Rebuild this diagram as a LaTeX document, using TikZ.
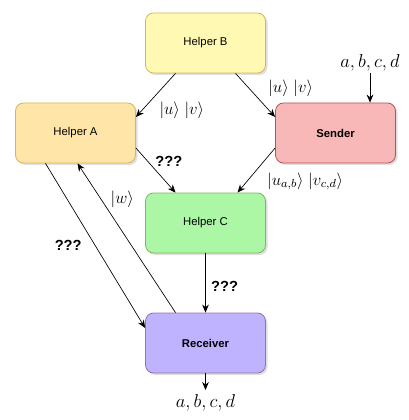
\RequirePackage{fix-cm}
\documentclass[tikz,border=0pt]{standalone}
\usepackage{fontspec}
\setsansfont{Liberation Sans}
\usetikzlibrary{arrows.meta, positioning, calc, shadows}
\definecolor{CHelpB}{HTML}{FFF9B3}
\definecolor{CHelpA}{HTML}{FFE6A8}
\definecolor{CSend}{HTML}{F8B8B8}
\definecolor{CHelpC}{HTML}{ACF7A5}
\definecolor{CRecv}{HTML}{BFB3FF}
\definecolor{CYellowLine}{HTML}{D6B656}
\definecolor{CRedLine}{HTML}{B85450}
\definecolor{CGreenLine}{HTML}{82B366}
\definecolor{CPurpleLine}{HTML}{9673A6}

\begin{document}
\begin{tikzpicture}[x=0.75pt, y=-0.75pt,
    party/.style={draw, rounded corners=6pt, minimum width=90pt, minimum height=45pt,
        line width=0.6pt, font=\sffamily\fontsize{8.5}{10}\selectfont,
        drop shadow={shadow xshift=1.5pt, shadow yshift=-1.5pt, opacity=0.25}},
    link/.style={-{Stealth[length=6pt, width=5pt]}, line width=0.5pt},
    qlabel/.style={font=\fontsize{12.5}{15}\selectfont, inner sep=1pt},
    unknown/.style={font=\sffamily\bfseries\fontsize{11}{13}\selectfont, inner sep=1pt}]
    \useasboundingbox (0,0) rectangle (408,420);

    % Parties
    \node[party, fill=CHelpB, draw=CYellowLine] (helperB) at (205.5,43) {Helper B};
    \node[party, fill=CHelpA, draw=CYellowLine] (helperA) at (75.5,133) {Helper A};
    \node[party, fill=CSend, draw=CRedLine, font=\sffamily\bfseries\fontsize{8.5}{10}\selectfont] (sender) at (335.5,133) {Sender};
    \node[party, fill=CHelpC, draw=CGreenLine] (helperC) at (205.5,223) {Helper C};
    \node[party, fill=CRecv, draw=CPurpleLine, font=\sffamily\bfseries\fontsize{8.5}{10}\selectfont] (receiver) at (205.5,343) {Receiver};

    % Classical input and output
    \node[qlabel, font=\fontsize{14}{16}\selectfont] (abcdIn) at (370,63) {$a,b,c,d$};
    \node[qlabel, font=\fontsize{14}{16}\selectfont] (abcdOut) at (205.5,403) {$a,b,c,d$};
    \coordinate (outEnd) at (205.5,390);

    % Helper B shares states
    \draw[link] ($(helperB.south)+(-30,0)$) -- ($(helperA.east)+(0,-16)$)
        node[qlabel, pos=0.85, anchor=west, xshift=12pt] {$|u\rangle\;|v\rangle$};
    \draw[link] ($(helperB.south)+(30,0)$) -- ($(sender.west)+(0,-16)$)
        node[qlabel, pos=0.35, anchor=west, xshift=13pt] {$|u\rangle\;|v\rangle$};
    \draw[link] (abcdIn.south) -- (abcdIn.south |- sender.north);

    % Towards Helper C
    \draw[link] ($(helperA.east)+(0,15)$) -- ($(helperC.north)+(-30,0)$)
        node[unknown, pos=0.3, anchor=west, xshift=4.5pt] {???};
    \draw[link] ($(sender.west)+(0,15)$) -- ($(helperC.north)+(32,0)$)
        node[qlabel, pos=0.75, anchor=west, xshift=14pt] {$|u_{a,b}\rangle\;|v_{c,d}\rangle$};

    % Towards Receiver
    \draw[link] ($(helperA.south)+(-30,0)$) -- ($(receiver.west)+(0,-15)$)
        node[unknown, pos=0.5, anchor=east, xshift=-9pt] {???};
    \draw[link] ($(receiver.north)+(-30,0)$) -- ($(helperA.south)+(2,0)$)
        node[qlabel, pos=0.76, anchor=west, xshift=6pt] {$|w\rangle$};
    \draw[link] (helperC) -- (receiver)
        node[unknown, pos=0.55, anchor=west, xshift=3pt] {???};
    \draw[link] (receiver) -- (outEnd);
\end{tikzpicture}
\end{document}
